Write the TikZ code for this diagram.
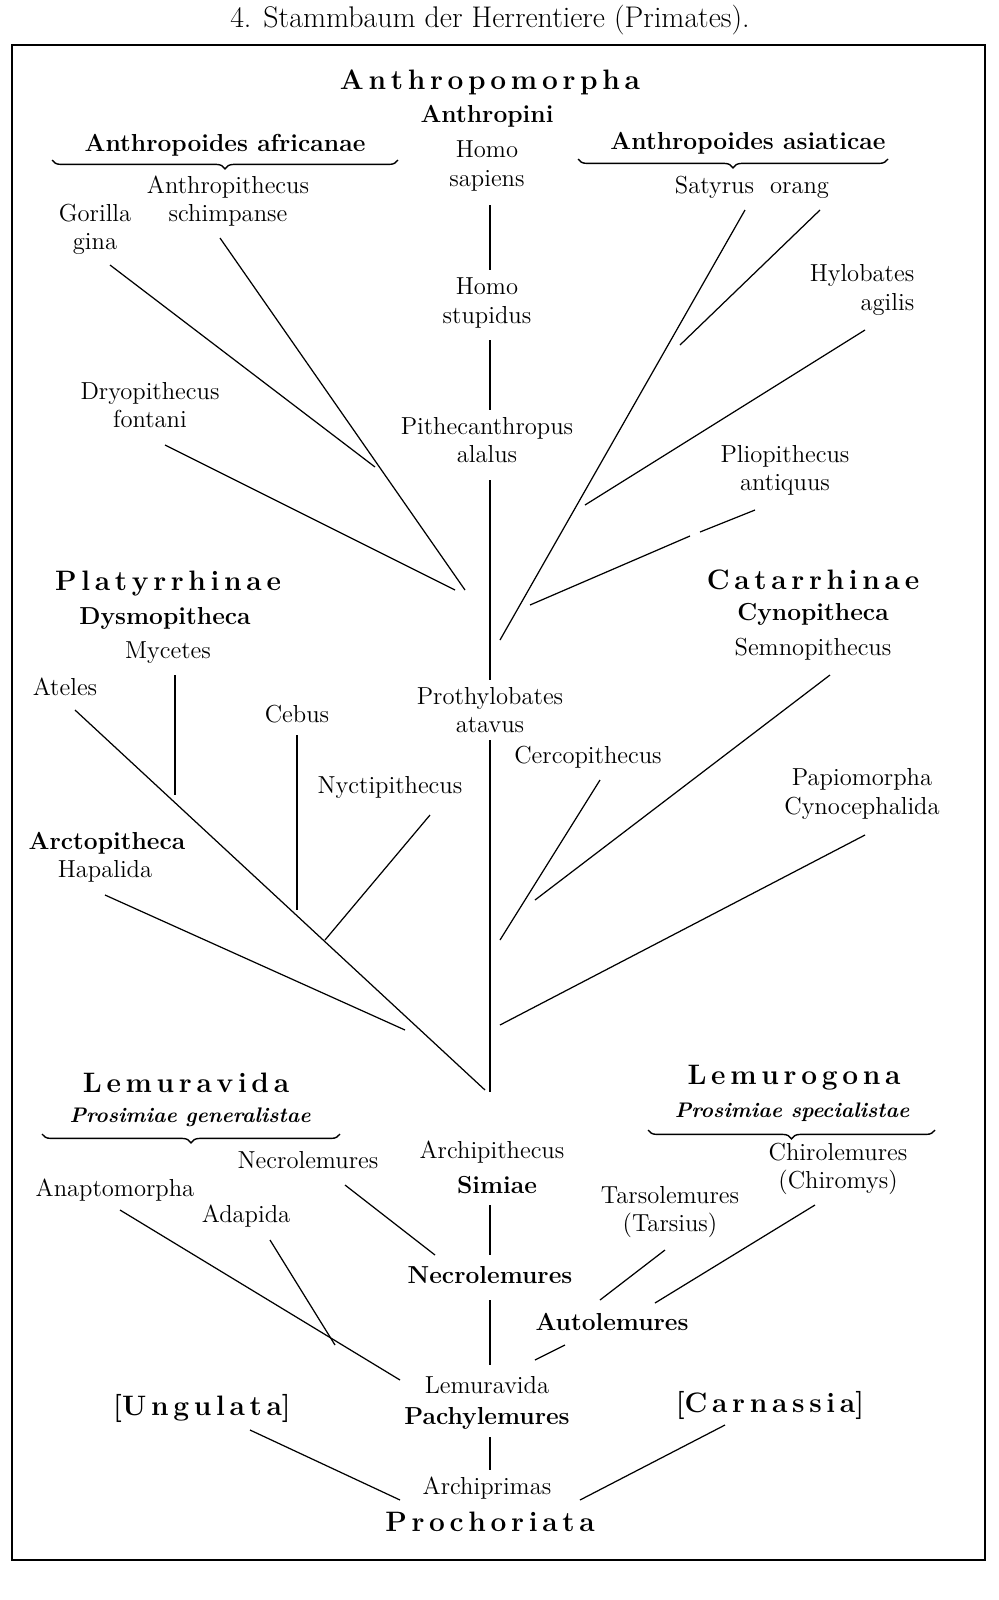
\documentclass[tikz,border=0pt]{standalone}
\usetikzlibrary{decorations.pathreplacing}
\begin{document}
\begin{tikzpicture}[x=0.02cm,y=-0.02cm,
  t/.style={font=\fontsize{14}{16}\selectfont,align=center,inner sep=0pt},
  tb/.style={t,font=\fontsize{14}{16}\selectfont\bfseries},
  tbig/.style={t,font=\fontsize{16}{18}\selectfont\bfseries},
  ti/.style={t,font=\fontsize{12}{14}\selectfont\itshape\bfseries},
  br/.style={decorate,decoration={brace,mirror,amplitude=5pt},line width=0.8pt},
  ln/.style={line width=0.7pt}]
\useasboundingbox (0,0) rectangle (998,1600);
\draw[line width=1pt] (12,45) rectangle (985,1560);
\node[t,font=\fontsize{17}{19}\selectfont] (title) at (490,20) {4. Stammbaum der Herrentiere (Primates).};
% texts
\node[tbig] (anthm) at (490,82) {A\,n\,t\,h\,r\,o\,p\,o\,m\,o\,r\,p\,h\,a};
\node[tb] (anthi) at (487,116) {Anthropini};
\node[t] (hsap) at (487,166) {Homo\\sapiens};
\node[tb] (aaf) at (225,145) {Anthropoides africanae};
\node[tb] (aas) at (748,143) {Anthropoides asiaticae};
\node[t] (schim) at (228,201) {Anthropithecus\\schimpanse};
\node[t] (gor) at (95,229) {Gorilla\\gina};
\node[t] (saty) at (752,187) {Satyrus\ \ orang};
\node[t,align=right] (hyl) at (862,290) {Hylobates\\\hfill agilis};
\node[t] (hstu) at (487,303) {Homo\\stupidus};
\node[t] (dryo) at (150,405) {Dryopithecus\\fontani};
\node[t] (pith) at (487,440) {Pithecanthropus\\alalus};
\node[t] (plio) at (785,470) {Pliopithecus\\antiquus};
\node[tbig] (platy) at (168,584) {P\,l\,a\,t\,y\,r\,r\,h\,i\,n\,a\,e};
\node[tb] (dysm) at (165,618) {Dysmopitheca};
\node[t] (myc) at (168,653) {Mycetes};
\node[t] (ate) at (65,687) {Ateles};
\node[t] (ceb) at (297,714) {Cebus};
\node[t] (proth) at (490,710) {Prothylobates\\atavus};
\node[t] (nyct) at (390,787) {Nyctipithecus};
\node[t] (cerc) at (588,757) {Cercopithecus};
\node[tbig] (cata) at (813,580) {C\,a\,t\,a\,r\,r\,h\,i\,n\,a\,e};
\node[tb] (cyno) at (813,614) {Cynopitheca};
\node[t] (semn) at (813,649) {Semnopithecus};
\node[t] (papi) at (862,794) {Papiomorpha\\Cynocephalida};
\node[tb] (arct) at (107,843) {Arctopitheca};
\node[t] (hapa) at (105,871) {Hapalida};
\node[tbig] (lemv) at (186,1083) {L\,e\,m\,u\,r\,a\,v\,i\,d\,a};
\node[ti] (pgen) at (190,1117) {Prosimiae generalistae};
\node[tbig] (lemg) at (794,1078) {L\,e\,m\,u\,r\,o\,g\,o\,n\,a};
\node[ti] (pspe) at (792,1112) {Prosimiae specialistae};
\node[t] (necr1) at (308,1160) {Necrolemures};
\node[t] (anap) at (115,1190) {Anaptomorpha};
\node[t] (adap) at (246,1216) {Adapida};
\node[t] (archi) at (492,1152) {Archipithecus};
\node[tb] (simi) at (497,1185) {Simiae};
\node[t] (tars) at (670,1212) {Tarsolemures\\(Tarsius)};
\node[t] (chir) at (838,1169) {Chirolemures\\(Chiromys)};
\node[tb] (necr2) at (490,1275) {Necrolemures};
\node[tb] (auto) at (612,1322) {Autolemures};
\node[t] (lemv2) at (487,1385) {Lemuravida};
\node[tb] (pach) at (487,1418) {Pachylemures};
\node[tbig] (ung) at (202,1408) {[U\,n\,g\,u\,l\,a\,t\,a]};
\node[tbig] (carn) at (770,1405) {[C\,a\,r\,n\,a\,s\,s\,i\,a]};
\node[t] (archp) at (487,1488) {Archiprimas};
\node[tbig] (proch) at (490,1522) {P\,r\,o\,c\,h\,o\,r\,i\,a\,t\,a};
% braces
\draw[br] (52,160) -- (398,160);
\draw[br] (578,159) -- (888,159);
\draw[br] (42,1134) -- (340,1134);
\draw[br] (648,1130) -- (935,1130);
\begin{scope}[ln]
\draw (490,205) -- (490,270);
\draw (490,340) -- (490,410);
\draw (490,480) -- (490,680);
\draw (490,740) -- (490,1092);
\draw (490,1205) -- (490,1255);
\draw (490,1300) -- (490,1365);
\draw (490,1437) -- (490,1470);
\draw (110,265) -- (375,467);
\draw (220,238) -- (465,590);
\draw (165,445) -- (455,590);
\draw (745,210) -- (500,640);
\draw (820,210) -- (680,345);
\draw (865,330) -- (585,505);
\draw (755,510) -- (700,532);
\draw (690,536) -- (530,605);
\draw (75,710) -- (485,1090);
\draw (175,675) -- (175,795);
\draw (297,735) -- (297,910);
\draw (430,815) -- (325,940);
\draw (105,895) -- (405,1030);
\draw (830,675) -- (535,900);
\draw (600,780) -- (500,940);
\draw (865,835) -- (500,1025);
\draw (120,1210) -- (400,1380);
\draw (270,1240) -- (335,1345);
\draw (345,1185) -- (435,1255);
\draw (665,1250) -- (600,1300);
\draw (815,1205) -- (655,1303);
\draw (565,1345) -- (535,1360);
\draw (250,1430) -- (400,1500);
\draw (725,1425) -- (580,1500);
\end{scope}
\end{tikzpicture}
\end{document}
